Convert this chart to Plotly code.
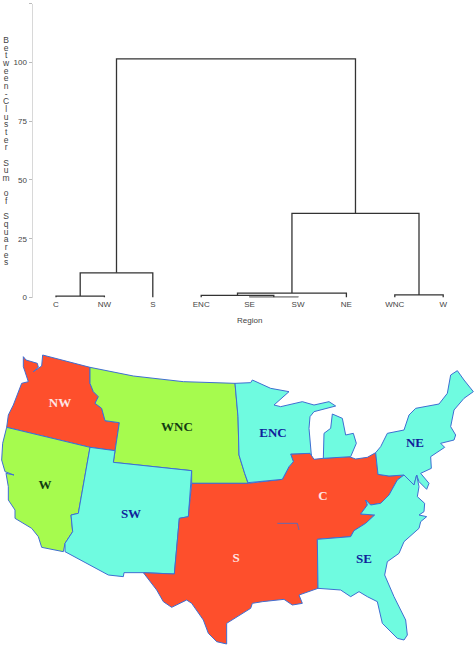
import plotly.graph_objects as go

W_PX, H_PX = 474, 649

# ---------- dendrogram data ----------
regions = ["C", "NW", "S", "ENC", "SE", "SW", "NE", "WNC", "W"]
y_ticks = [0, 25, 50, 75, 100, 125]
# (left child, right child, between-cluster sum of squares)
merges = [
    ("C", "NW", 0.6, "a"),
    ("a", "S", 10.5, "b"),
    ("SE", "SW", 0.15, "c"),
    ("ENC", "c", 0.9, "d"),
    ("d", "NE", 1.9, "e"),
    ("WNC", "W", 1.1, "f"),
    ("e", "f", 35.8, "g"),
    ("b", "g", 101.5, "h"),
]
y_title = "Between-Cluster Sum of Squares"

# ---------- map outlines (traced coordinates, 3x scale of the picture) ----------
nw = [(70,50),(78,60),(112,70),(115,82),(100,95),(125,78),(128,45),(270,82),(270,130),(280,155),(295,170),(285,190),(305,205),(315,242),(358,248),(345,332),(270,322),(20,262),(25,225),(40,195),(65,130),(85,125),(75,95),(70,80)]
wnc = [(270,82),(400,108),(550,125),(705,130),(714,230),(717,345),(734,400),(744,430),(575,430),(575,392),(340,367),(345,332),(358,248),(315,242),(305,205),(285,190),(295,170),(280,155),(270,130)]
w = [(20,262),(270,322),(235,520),(213,525),(218,575),(195,610),(190,635),(125,622),(115,590),(95,565),(45,535),(45,510),(25,480),(25,440),(18,400),(42,405),(15,395),(5,360),(8,310)]
sw = [(270,322),(345,332),(340,367),(575,392),(565,530),(538,535),(523,702),(430,698),(372,698),(370,710),(325,705),(195,635),(195,610),(218,575),(213,525),(235,520)]
# eastern regions were traced in a crop shifted by 702 units
red_w_a = [(575,430),(744,430)]
red_e = [(145,418),(150,410),(165,380),(178,365),(170,342),(228,340),(240,358),(268,355),(345,350),(365,357),(400,352),(425,338),(432,403),(465,408),(510,405),(490,420),(465,465),(440,490),(410,495),(395,480),(400,495),(380,522),(422,525),(395,550),(360,572),(350,590),(250,598),(252,745),(195,765),(205,790),(175,795),(150,778),(85,785),(55,790),(50,805),(0,835)]
red_w_b = [(680,850),(680,912),(650,905),(625,880),(610,840),(575,790),(560,780),(515,802),(490,785),(470,750),(430,698),(523,702),(538,535),(565,530)]
notch = [(130,550),(190,550),(195,570)]
enc = [(3,130),(50,128),(55,120),(110,145),(165,155),(120,195),(140,200),(205,185),(240,195),(285,185),(305,198),(240,215),(228,230),(225,265),(232,345),(228,340),(170,342),(178,365),(165,380),(150,410),(145,418),(42,428),(32,400),(15,345),(12,230)]
mich = [(268,355),(270,280),(290,265),(295,222),(325,235),(335,285),(358,280),(367,310),(350,350)]
ne = [(425,338),(440,320),(460,280),(510,270),(525,225),(545,205),(615,192),(640,160),(650,105),(670,92),(690,120),(718,155),(690,175),(660,210),(650,260),(665,285),(660,300),(620,310),(632,322),(600,345),(590,350),(592,385),(560,400),(585,430),(578,448),(555,425),(548,405),(540,435),(510,405),(465,408),(432,403)]
se = [(510,405),(540,435),(548,405),(555,440),(550,470),(572,490),(570,515),(555,525),(578,530),(560,545),(555,565),(510,605),(495,640),(460,665),(452,705),(480,770),(515,840),(520,885),(510,900),(490,895),(445,850),(430,785),(400,770),(375,755),(350,770),(320,750),(252,745),(250,598),(350,590),(360,572),(395,550),(422,525),(380,522),(400,495),(395,480),(410,495),(440,490),(465,465),(490,420)]

map_labels = ["NW", "WNC", "W", "SW", "ENC", "NE", "SE", "C", "S"]
label_x = [60, 177, 45, 131, 273, 415, 364, 323, 236]
label_y = [404, 428, 486, 515, 434, 444, 560, 497, 559]
label_colors = ["#ffe6e6", "#123c12", "#123c12", "#10209a", "#10209a", "#10209a", "#10209a", "#ffe6e6", "#ffe6e6"]

RED, GREEN, CYAN, EDGE = "#fe4f2c", "#a6fb4e", "#6ffbe0", "#3f6ed2"
OFFSET = 702


def west(points):
    return [(x / 3, 340 + y / 3) for x, y in points]


def east(points):
    return west([(x + OFFSET, y) for x, y in points])


# ---------- dendrogram from merges ----------
pos = {r: (float(i), 0.0) for i, r in enumerate(regions)}
dx, dy = [], []
for left, right, h, name in merges:
    (xl, yl), (xr, yr) = pos[left], pos[right]
    dx += [xl, xl, xr, xr, None]
    dy += [yl, h, h, yr, None]
    pos[name] = ((xl + xr) / 2, h)

fig = go.Figure()
fig.add_trace(go.Scatter(x=dx, y=dy, mode="lines", line=dict(color="#333333", width=1.3),
                         hoverinfo="skip", showlegend=False))

# ---------- map ----------
def poly(points, color):
    fig.add_trace(go.Scatter(x=[p[0] for p in points] + [points[0][0]],
                             y=[p[1] for p in points] + [points[0][1]],
                             mode="lines", fill="toself", fillcolor=color,
                             line=dict(color=EDGE, width=1), xaxis="x2", yaxis="y2",
                             hoverinfo="skip", showlegend=False))


poly(west(nw), RED)
poly(west(wnc), GREEN)
poly(west(w), GREEN)
poly(west(sw), CYAN)
poly(west(red_w_a) + east(red_e) + west(red_w_b), RED)
poly(east(enc), CYAN)
poly(east(mich), CYAN)
poly(east(ne), CYAN)
poly(east(se), CYAN)
n = east(notch)
fig.add_trace(go.Scatter(x=[p[0] for p in n], y=[p[1] for p in n], mode="lines",
                         line=dict(color=EDGE, width=0.8), xaxis="x2", yaxis="y2",
                         hoverinfo="skip", showlegend=False))
fig.add_trace(go.Scatter(x=label_x, y=label_y, mode="text", text=map_labels,
                         textposition="middle center",
                         textfont=dict(family="Liberation Serif", size=13, color=label_colors, weight="bold"),
                         xaxis="x2", yaxis="y2", hoverinfo="skip", showlegend=False))

# ---------- vertical stacked y title: one text, one letter per line ----------
stacked = "<br>".join('<span style="font-size:8.5px">%s</span>' % ch if ch != " " else "&nbsp;" for ch in y_title)
annotations = [
    dict(text=stacked, xref="paper", yref="paper", showarrow=False, x=5.5 / W_PX, y=1 - 33 / H_PX,
         xanchor="center", yanchor="top", align="center",
         font=dict(family="Liberation Sans", size=5.9, color="#444444")),
    dict(text="Region", xref="x", yref="paper", x=4, y=1 - 320 / H_PX, showarrow=False,
         xanchor="center", yanchor="middle",
         font=dict(family="Liberation Sans", size=8, color="#444444")),
]

px0, unit = 56.0, 48.4
fig.update_layout(
    width=W_PX, height=H_PX, autosize=False,
    margin=dict(l=0, r=0, t=0, b=0, autoexpand=False),
    paper_bgcolor="white", plot_bgcolor="white",
    annotations=annotations,
    xaxis=dict(domain=[0, 1], range=[-px0 / unit, (W_PX - px0) / unit], automargin=False,
               tickvals=list(range(len(regions))), ticktext=regions,
               showgrid=False, zeroline=False, showline=False, ticks="", ticklabelstandoff=0,
               tickfont=dict(family="Liberation Sans", size=8, color="#444444"), anchor="y"),
    yaxis=dict(domain=[1 - 297.5 / H_PX, 1 - 3.7 / H_PX], range=[0, 125], automargin=False,
               tickvals=y_ticks, showgrid=False, zeroline=False,
               showline=True, linecolor="#d8d8d8", linewidth=1,
               ticks="outside", ticklen=3, tickcolor="#bbbbbb",
               tickfont=dict(family="Liberation Sans", size=8, color="#444444"),
               anchor="free", position=31.5 / W_PX),
    xaxis2=dict(domain=[0, 1], range=[0, W_PX], visible=False, anchor="y2", automargin=False),
    yaxis2=dict(domain=[0, 1 - 339 / H_PX], range=[H_PX, 339], visible=False, anchor="x2", automargin=False),
)
fig.write_html("out.html", config={"displayModeBar": False},
               post_script="document.body.style.margin='0';document.body.style.overflow='hidden';")
